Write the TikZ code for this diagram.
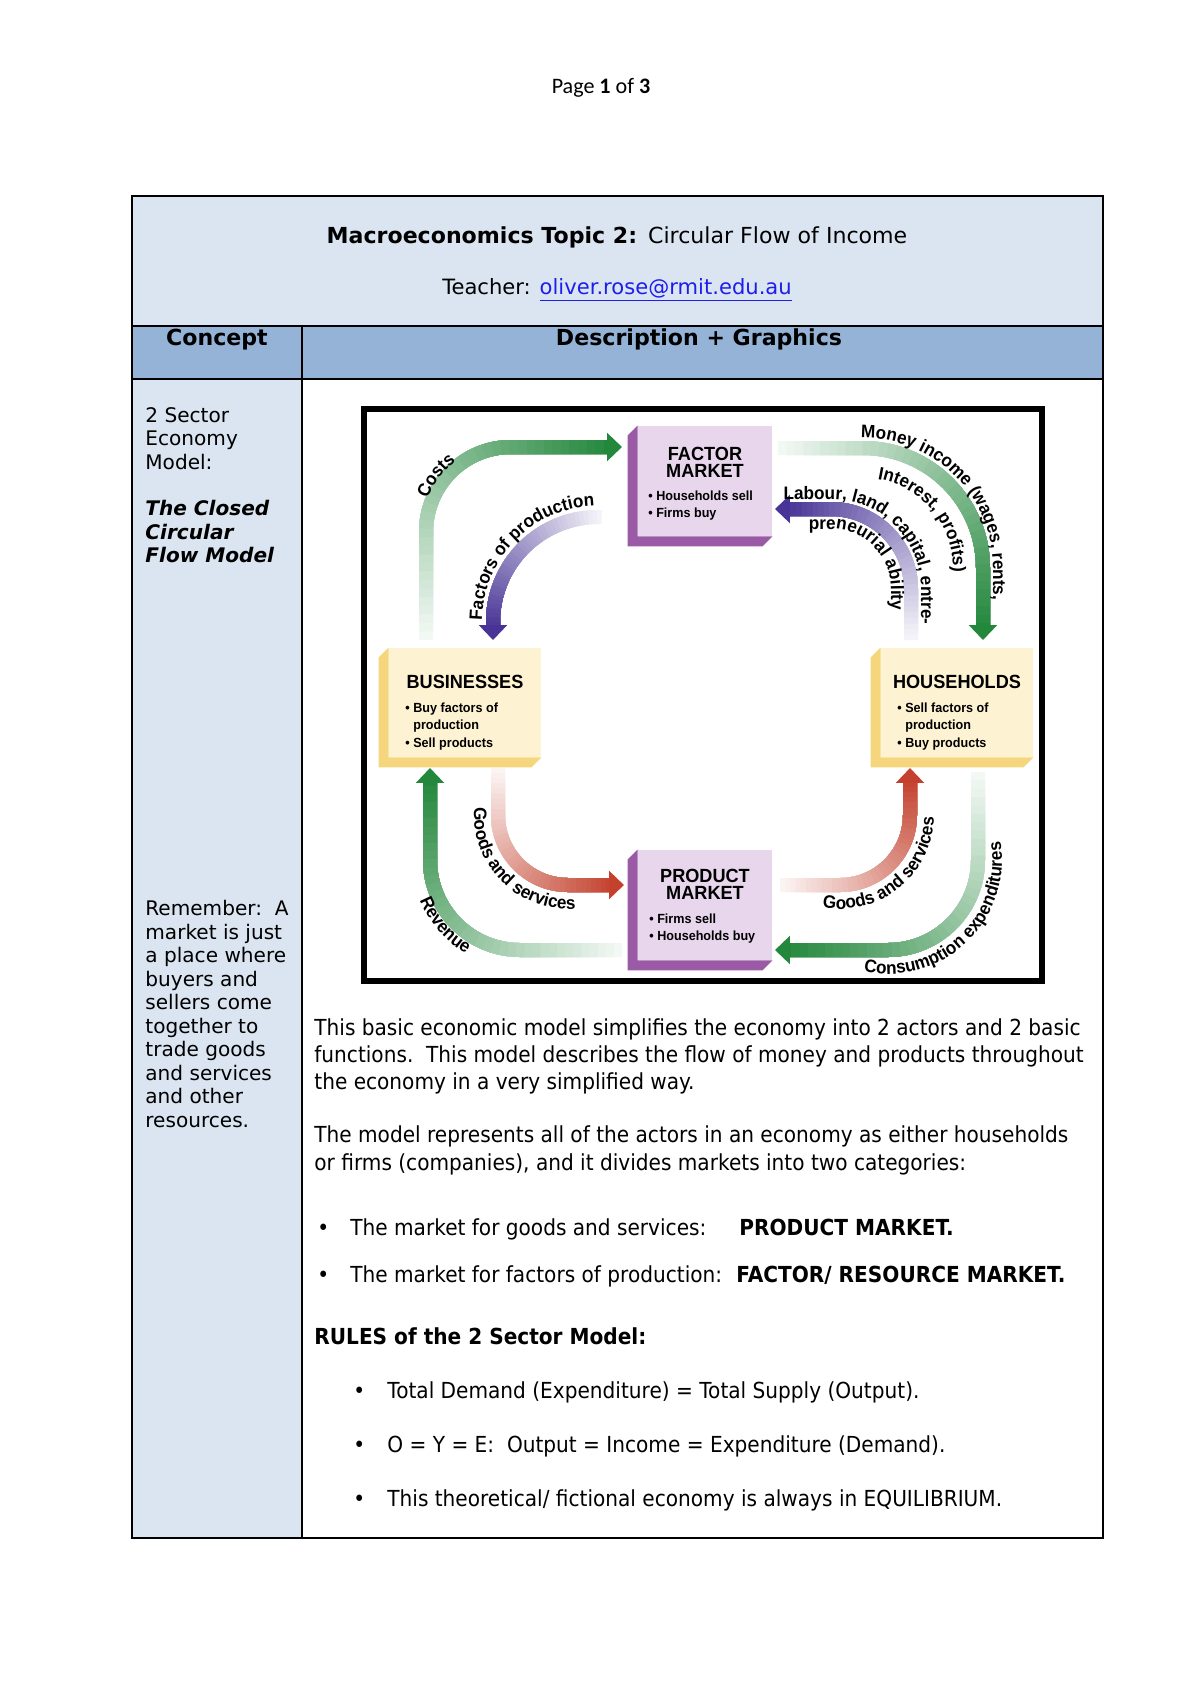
\documentclass[tikz,border=0pt]{standalone}
\usepackage{fontspec}
\setmainfont{DejaVu Sans}
\newfontfamily\descfont{DejaVu Sans}[FakeStretch=0.91]
\newfontfamily\dgfont{Liberation Sans}[FakeStretch=0.95]
\newfontfamily\pagefont{Carlito}
\usetikzlibrary{arrows.meta,positioning,calc,decorations.text}
\definecolor{tblight}{RGB}{219,229,241}
\definecolor{tbdark}{RGB}{149,179,215}
\definecolor{flowgreen}{RGB}{35,135,60}
\definecolor{flowpurple}{RGB}{72,52,150}
\definecolor{flowred}{RGB}{195,65,45}
\definecolor{mkfront}{RGB}{231,214,236}
\definecolor{mkside}{RGB}{155,90,165}
\definecolor{acfront}{RGB}{253,242,209}
\definecolor{acside}{RGB}{246,214,125}
\definecolor{linkblue}{RGB}{30,30,235}
\newcommand{\lblfont}{\dgfont\bfseries\fontsize{9}{10}\selectfont}
% ribbon that darkens along its path: colour, fade length (cm), path
\newcommand{\fadeflow}[3]{%
  \foreach \k in {0,...,39}{%
    \pgfmathsetmacro{\gap}{#2*\k/40}%
    \pgfmathtruncatemacro{\tint}{6+94*\k/39}%
    \draw[flow, shorten >=0.2cm, draw=#1!\tint, dash pattern=on 0pt off \gap cm on 30cm] #3;}%
  \draw[flow, draw=#1, dash pattern=on 0pt off 30cm, -{Triangle[length=0.26cm, width=0.48cm]}] #3;}
% side faces of a box, to the lower left
\newcommand{\boxside}[2]{%
  \fill[#2] (#1.north west) -- ++(-10,-10) -- ($(#1.south west)+(-10,-10)$) -- ($(#1.south east)+(-10,-10)$) -- (#1.south east) -- (#1.south west) -- cycle;}
\begin{document}
\begin{tikzpicture}[x=0.0175cm, y=0.0175cm,
  tbline/.style={line width=1.1pt},
  flow/.style={line width=0.245cm},
  mkbox/.style={fill=mkfront, minimum width=2.345cm, minimum height=1.925cm, inner sep=0pt},
  acbox/.style={fill=acfront, minimum width=2.66cm, minimum height=1.91cm, inner sep=0pt},
  boxtitle/.style={font=\dgfont\bfseries\fontsize{9.5}{8.4}\selectfont, align=center, inner sep=0pt, anchor=north},
  boxlist/.style={font=\dgfont\bfseries\fontsize{6.6}{8.9}\selectfont, align=left, inner sep=0pt, anchor=north west},
  flowlbl/.style={decorate, decoration={text along path, text align=center, text={|\lblfont|#1}}},
  coltxt/.style={font=\fontsize{10}{11.7}\selectfont, align=left, inner sep=0pt, anchor=north west},
  desctxt/.style={font=\descfont\fontsize{11}{13.4}\selectfont, inner sep=0pt, anchor=base west},
  descbold/.style={desctxt, font=\descfont\bfseries\fontsize{11}{13.4}\selectfont}]
\useasboundingbox (0,0) rectangle (1200,-1698);
\fill[white] (0,0) rectangle (1200,-1698);
% page header
\node[font=\pagefont\fontsize{11}{13}\selectfont, anchor=base] (pg) at (601,-93) {Page \textbf{1} of \textbf{3}};
% table
\fill[tblight] (132,-196) rectangle (1103,-326);
\fill[tbdark] (132,-326) rectangle (1103,-379);
\fill[tblight] (132,-379) rectangle (302,-1538);
\draw[tbline] (132,-196) rectangle (1103,-1538);
\draw[tbline] (132,-326) -- (1103,-326);
\draw[tbline] (132,-379) -- (1103,-379);
\draw[tbline] (302,-326) -- (302,-1538);
\node[font=\fontsize{11}{13}\selectfont, anchor=base] (ttl) at (617,-243) {\textbf{Macroeconomics Topic 2:}\hspace{0.5em}Circular Flow of Income};
\node[font=\fontsize{10.5}{13}\selectfont, anchor=base] (tch) at (617,-294) {Teacher: \textcolor{linkblue}{\underline{oliver.rose@rmit.edu.au}}};
\node[font=\bfseries\fontsize{11}{13}\selectfont, anchor=base] (hcon) at (217,-345) {Concept};
\node[font=\bfseries\fontsize{11}{13}\selectfont, anchor=base] (hdes) at (699,-345) {Description + Graphics};
% concept column
\node[coltxt] (cpt1) at (145,-407) {2 Sector\\Economy\\Model:};
\node[coltxt, font=\bfseries\itshape\fontsize{10}{11.7}\selectfont] (cpt2) at (145,-500) {The Closed\\Circular\\Flow Model};
\node[coltxt] (cpt3) at (145,-900) {Remember:\ \ A\\market is just\\a place where\\buyers and\\sellers come\\together to\\trade goods\\and services\\and other\\resources.};
% diagram frame
\draw[line width=0.105cm] (364,-409) rectangle (1042,-981);
% markets and actors
\node[mkbox] (fm) at (705,-481) {};
\boxside{fm}{mkside}
\node[mkbox] (pm) at (705,-905) {};
\boxside{pm}{mkside}
\node[acbox] (bus) at (465,-702.5) {};
\boxside{bus}{acside}
\node[acbox] (hh) at (957,-702.5) {};
\boxside{hh}{acside}
\node[boxtitle] (fmt) at (705,-447) {FACTOR\\MARKET};
\node[boxlist] (fml) at (648,-490) {• Households sell\\• Firms buy};
\node[boxtitle] (pmt) at (705,-869) {PRODUCT\\MARKET};
\node[boxlist] (pml) at (649,-913) {• Firms sell\\• Households buy};
\node[boxtitle] (bust) at (465,-675) {BUSINESSES};
\node[boxlist] (busl) at (405,-702) {• Buy factors of\\\phantom{• }production\\• Sell products};
\node[boxtitle] (hht) at (957,-675) {HOUSEHOLDS};
\node[boxlist] (hhl) at (897,-702) {• Sell factors of\\\phantom{• }production\\• Buy products};
% arc centres of the flows
\coordinate (c1) at (511,-532);
\coordinate (c2) at (598,-622);
\coordinate (c3) at (863,-568);
\coordinate (c4) at (831,-589);
\coordinate (c5) at (568,-815);
\coordinate (c6) at (520,-860);
\coordinate (c7) at (840,-815);
\coordinate (c8) at (888,-860);
% flows
\fadeflow{flowgreen}{6.0}{(426,-640) -- (426,-532) arc[start angle=180, end angle=90, radius=85] -- (622,-447)}
\fadeflow{flowpurple}{3.1}{($(c2)+(88:105)$) arc[start angle=88, end angle=180, radius=105] -- (493,-640)}
\fadeflow{flowgreen}{5.9}{(778,-448) -- (863,-448) arc[start angle=90, end angle=0, radius=120] -- (983,-640)}
\fadeflow{flowpurple}{3.9}{(911,-640) -- (911,-589) arc[start angle=0, end angle=90, radius=80] -- (775,-509)}
\fadeflow{flowred}{3.6}{(498,-768) -- (498,-815) arc[start angle=180, end angle=270, radius=70] -- (624,-885)}
\fadeflow{flowgreen}{5.7}{(622,-950) -- (520,-950) arc[start angle=270, end angle=180, radius=90] -- (430,-768)}
\fadeflow{flowred}{3.65}{(780,-885) -- (840,-885) arc[start angle=270, end angle=360, radius=70] -- (910,-768)}
\fadeflow{flowgreen}{5.85}{(978,-772) -- (978,-860) arc[start angle=0, end angle=-90, radius=90] -- (775,-950)}
% flow labels
\path[flowlbl={Costs}] ($(c1)+(178:90)$) arc[start angle=178, end angle=108, radius=90];
\path[flowlbl={Factors of production}] ($(c2)+(184:116)$) arc[start angle=184, end angle=87, radius=116];
\path[flowlbl={Money income (wages, rents,}] (851,-438) -- (863,-438) arc[start angle=90, end angle=0, radius=130] -- (993,-610);
\path[flowlbl={Interest, profits)}] ($(c3)+(95:90)$) arc[start angle=95, end angle=-17, radius=90];
\path[flowlbl={Labour, land, capital, entre-}] (772,-499) -- (831,-499) arc[start angle=90, end angle=0, radius=90] -- (921,-636);
\path[flowlbl={preneurial ability}] (792,-529) -- (831,-529) arc[start angle=90, end angle=0, radius=60] -- (891,-627);
\path[flowlbl={Goods and services}] ($(c5)+(160:94)$) arc[start angle=160, end angle=290, radius=94];
\path[flowlbl={Revenue}] ($(c6)+(190:108)$) arc[start angle=190, end angle=252, radius=108];
\path[flowlbl={Goods and services}] ($(c7)+(244:94)$) arc[start angle=244, end angle=374, radius=94];
\path[flowlbl={Consumption expenditures}] ($(c8)+(245:114)$) arc[start angle=245, end angle=382, radius=114];
% description
\node[desctxt] (d1) at (314,-1035) {This basic economic model simplifies the economy into 2 actors and 2 basic};
\node[desctxt] (d2) at (314,-1062) {functions.\ \ This model describes the flow of money and products throughout};
\node[desctxt] (d3) at (314,-1089) {the economy in a very simplified way.};
\node[desctxt] (d4) at (314,-1142) {The model represents all of the actors in an economy as either households};
\node[desctxt] (d5) at (314,-1170) {or firms (companies), and it divides markets into two categories:};
\node[desctxt] (m1b) at (317,-1235) {•};
\node[desctxt] (m1) at (350,-1235) {The market for goods and services:};
\node[descbold] (m1k) at (739,-1235) {PRODUCT MARKET.};
\node[desctxt] (m2b) at (317,-1282) {•};
\node[desctxt] (m2) at (350,-1282) {The market for factors of production:};
\node[descbold] (m2k) at (736,-1282) {FACTOR/ RESOURCE MARKET.};
\node[descbold] (rules) at (314,-1344) {RULES of the 2 Sector Model:};
\node[desctxt] (r1b) at (353,-1398) {•};
\node[desctxt] (r1) at (387,-1398) {Total Demand (Expenditure) = Total Supply (Output).};
\node[desctxt] (r2b) at (353,-1452) {•};
\node[desctxt] (r2) at (387,-1452) {O = Y = E:\ \ Output = Income = Expenditure (Demand).};
\node[desctxt] (r3b) at (353,-1506) {•};
\node[desctxt] (r3) at (387,-1506) {This theoretical/ fictional economy is always in EQUILIBRIUM.};
\end{tikzpicture}
\end{document}
